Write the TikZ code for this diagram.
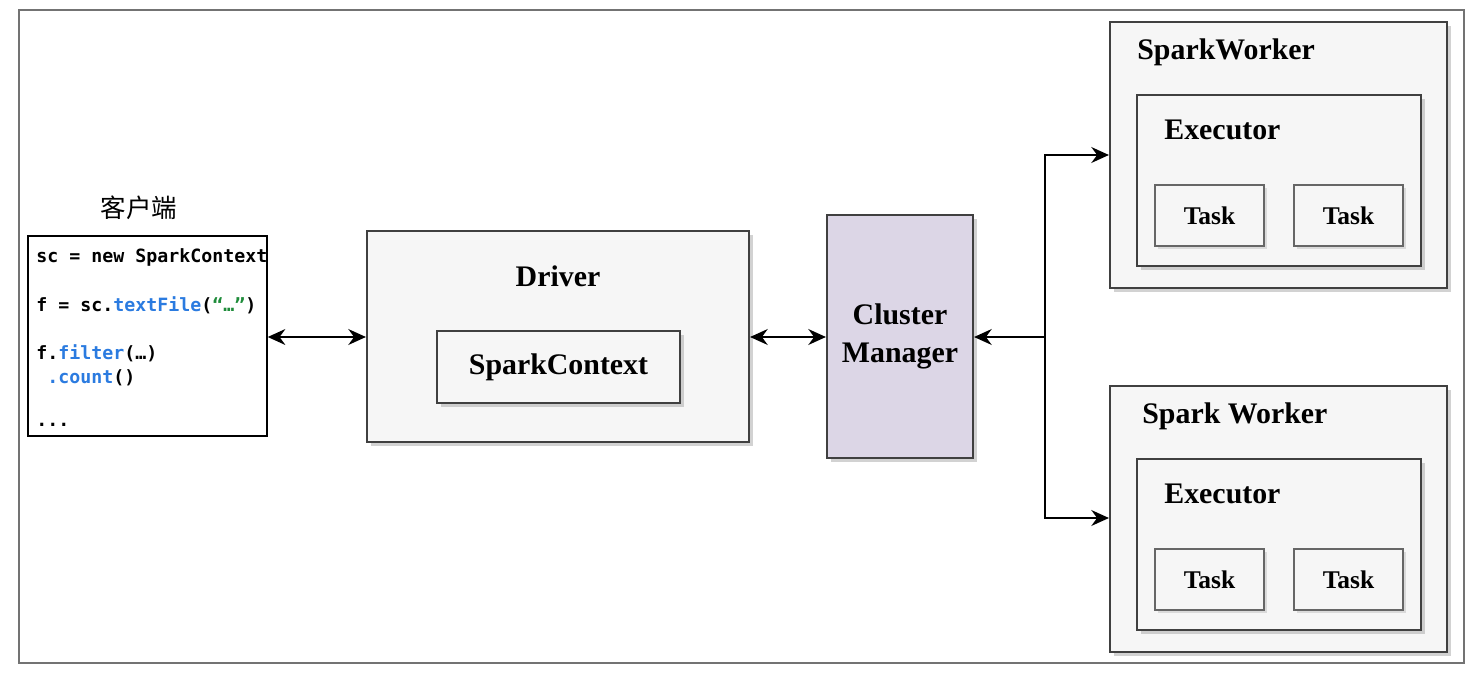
\documentclass[tikz,border=0pt]{standalone}
\usepackage{fontspec}
\setmainfont{Liberation Serif}
\setmonofont{DejaVu Sans Mono}
\newfontfamily\cjk{Noto Sans CJK SC}
\usetikzlibrary{arrows.meta,shadows}
\definecolor{cmfill}{HTML}{DCD6E6}
\definecolor{kwblue}{HTML}{2B7BE0}
\definecolor{strgreen}{HTML}{1E8C3A}
\begin{document}
\begin{tikzpicture}[x=0.02cm,y=-0.02cm,
  box/.style={draw=black!75,line width=1.2pt,fill=gray!7,drop shadow={shadow xshift=2pt,shadow yshift=-2pt,fill=black!35},inner sep=0pt},
  task/.style={draw=black!60,line width=0.6pt,fill=gray!7,drop shadow={shadow xshift=1.5pt,shadow yshift=-1.5pt,fill=black!25},inner sep=0pt,font=\bfseries\fontsize{14.5}{16}\selectfont},
  ttl/.style={font=\bfseries\fontsize{17}{19}\selectfont,anchor=west,inner sep=0pt},
  link/.style={line width=1.3pt,{Stealth[length=10pt,width=9pt]}-{Stealth[length=10pt,width=9pt]}},
  one/.style={line width=1.3pt,-{Stealth[length=10pt,width=9pt]}},
  back/.style={line width=1.3pt,{Stealth[length=10pt,width=9pt]}-}]
\useasboundingbox (0,0) rectangle (1476,686);
\draw[black!55,line width=0.6pt] (19,10) rectangle (1464,663);

% client
\node[font=\cjk\fontsize{14.5}{16}\selectfont] (ttlc) at (139,208) {客户端};
\node[draw=black,line width=0.8pt,fill=white,minimum width=239*0.02cm,minimum height=200*0.02cm,inner sep=0pt] (code) at (147.5,336) {};
\begin{scope}[every node/.style={anchor=west,inner sep=0pt,font=\ttfamily\bfseries\fontsize{10.4}{12}\selectfont}]
\node (l1) at (36,257) {sc = new SparkContext};
\node (l2) at (36,305) {f = sc.\textcolor{kwblue}{textFile}(\textcolor{strgreen}{“…”})};
\node (l3) at (36,353) {f.\textcolor{kwblue}{filter}(…)};
\node (l4) at (36,378) {\ \textcolor{kwblue}{.count}()};
\node (l5) at (36,425) {...};
\end{scope}

% driver
\node[box,minimum width=382*0.02cm,minimum height=211*0.02cm] (drv) at (558,336.5) {};
\node[font=\bfseries\fontsize{17}{19}\selectfont] (drvt) at (558,276) {Driver};
\node[box,minimum width=243*0.02cm,minimum height=72*0.02cm,font=\bfseries\fontsize{17}{19}\selectfont] (sc) at (558.5,367) {SparkContext};

% cluster manager
\node[box,fill=cmfill,minimum width=146*0.02cm,minimum height=243*0.02cm,align=center,font=\bfseries\fontsize{17}{22}\selectfont] (cm) at (900,336.5) {Cluster\\Manager};

% workers
\foreach \n/\y/\t/\tx in {1/0/SparkWorker/1137,2/364/Spark Worker/1142}{
  \node[box,minimum width=337*0.02cm,minimum height=266*0.02cm] (w\n) at (1278.5,155+\y) {};
  \node[ttl] (w\n t) at (\tx,52+\y) {\t};
  \node[box,minimum width=284*0.02cm,minimum height=171*0.02cm] (e\n) at (1279,180.5+\y) {};
  \node[ttl] (e\n t) at (1164,130+\y) {Executor};
  \node[task,minimum width=109*0.02cm,minimum height=61*0.02cm] (t\n a) at (1209.5,215.5+\y) {Task};
  \node[task,minimum width=109*0.02cm,minimum height=61*0.02cm] (t\n b) at (1348.5,215.5+\y) {Task};
}

% connectors
\draw[link] (code.east |- 0,337) -- (drv.west |- 0,337);
\draw[link] (drv.east |- 0,337) -- (cm.west |- 0,337);
\coordinate (hub) at (1045,337);
\draw[back] (cm.east |- hub) -- (hub);
\draw[one] (hub) -- (1045,155) -- (w1.west |- 0,155);
\draw[one] (hub) -- (1045,518) -- (w2.west |- 0,518);
\end{tikzpicture}
\end{document}
